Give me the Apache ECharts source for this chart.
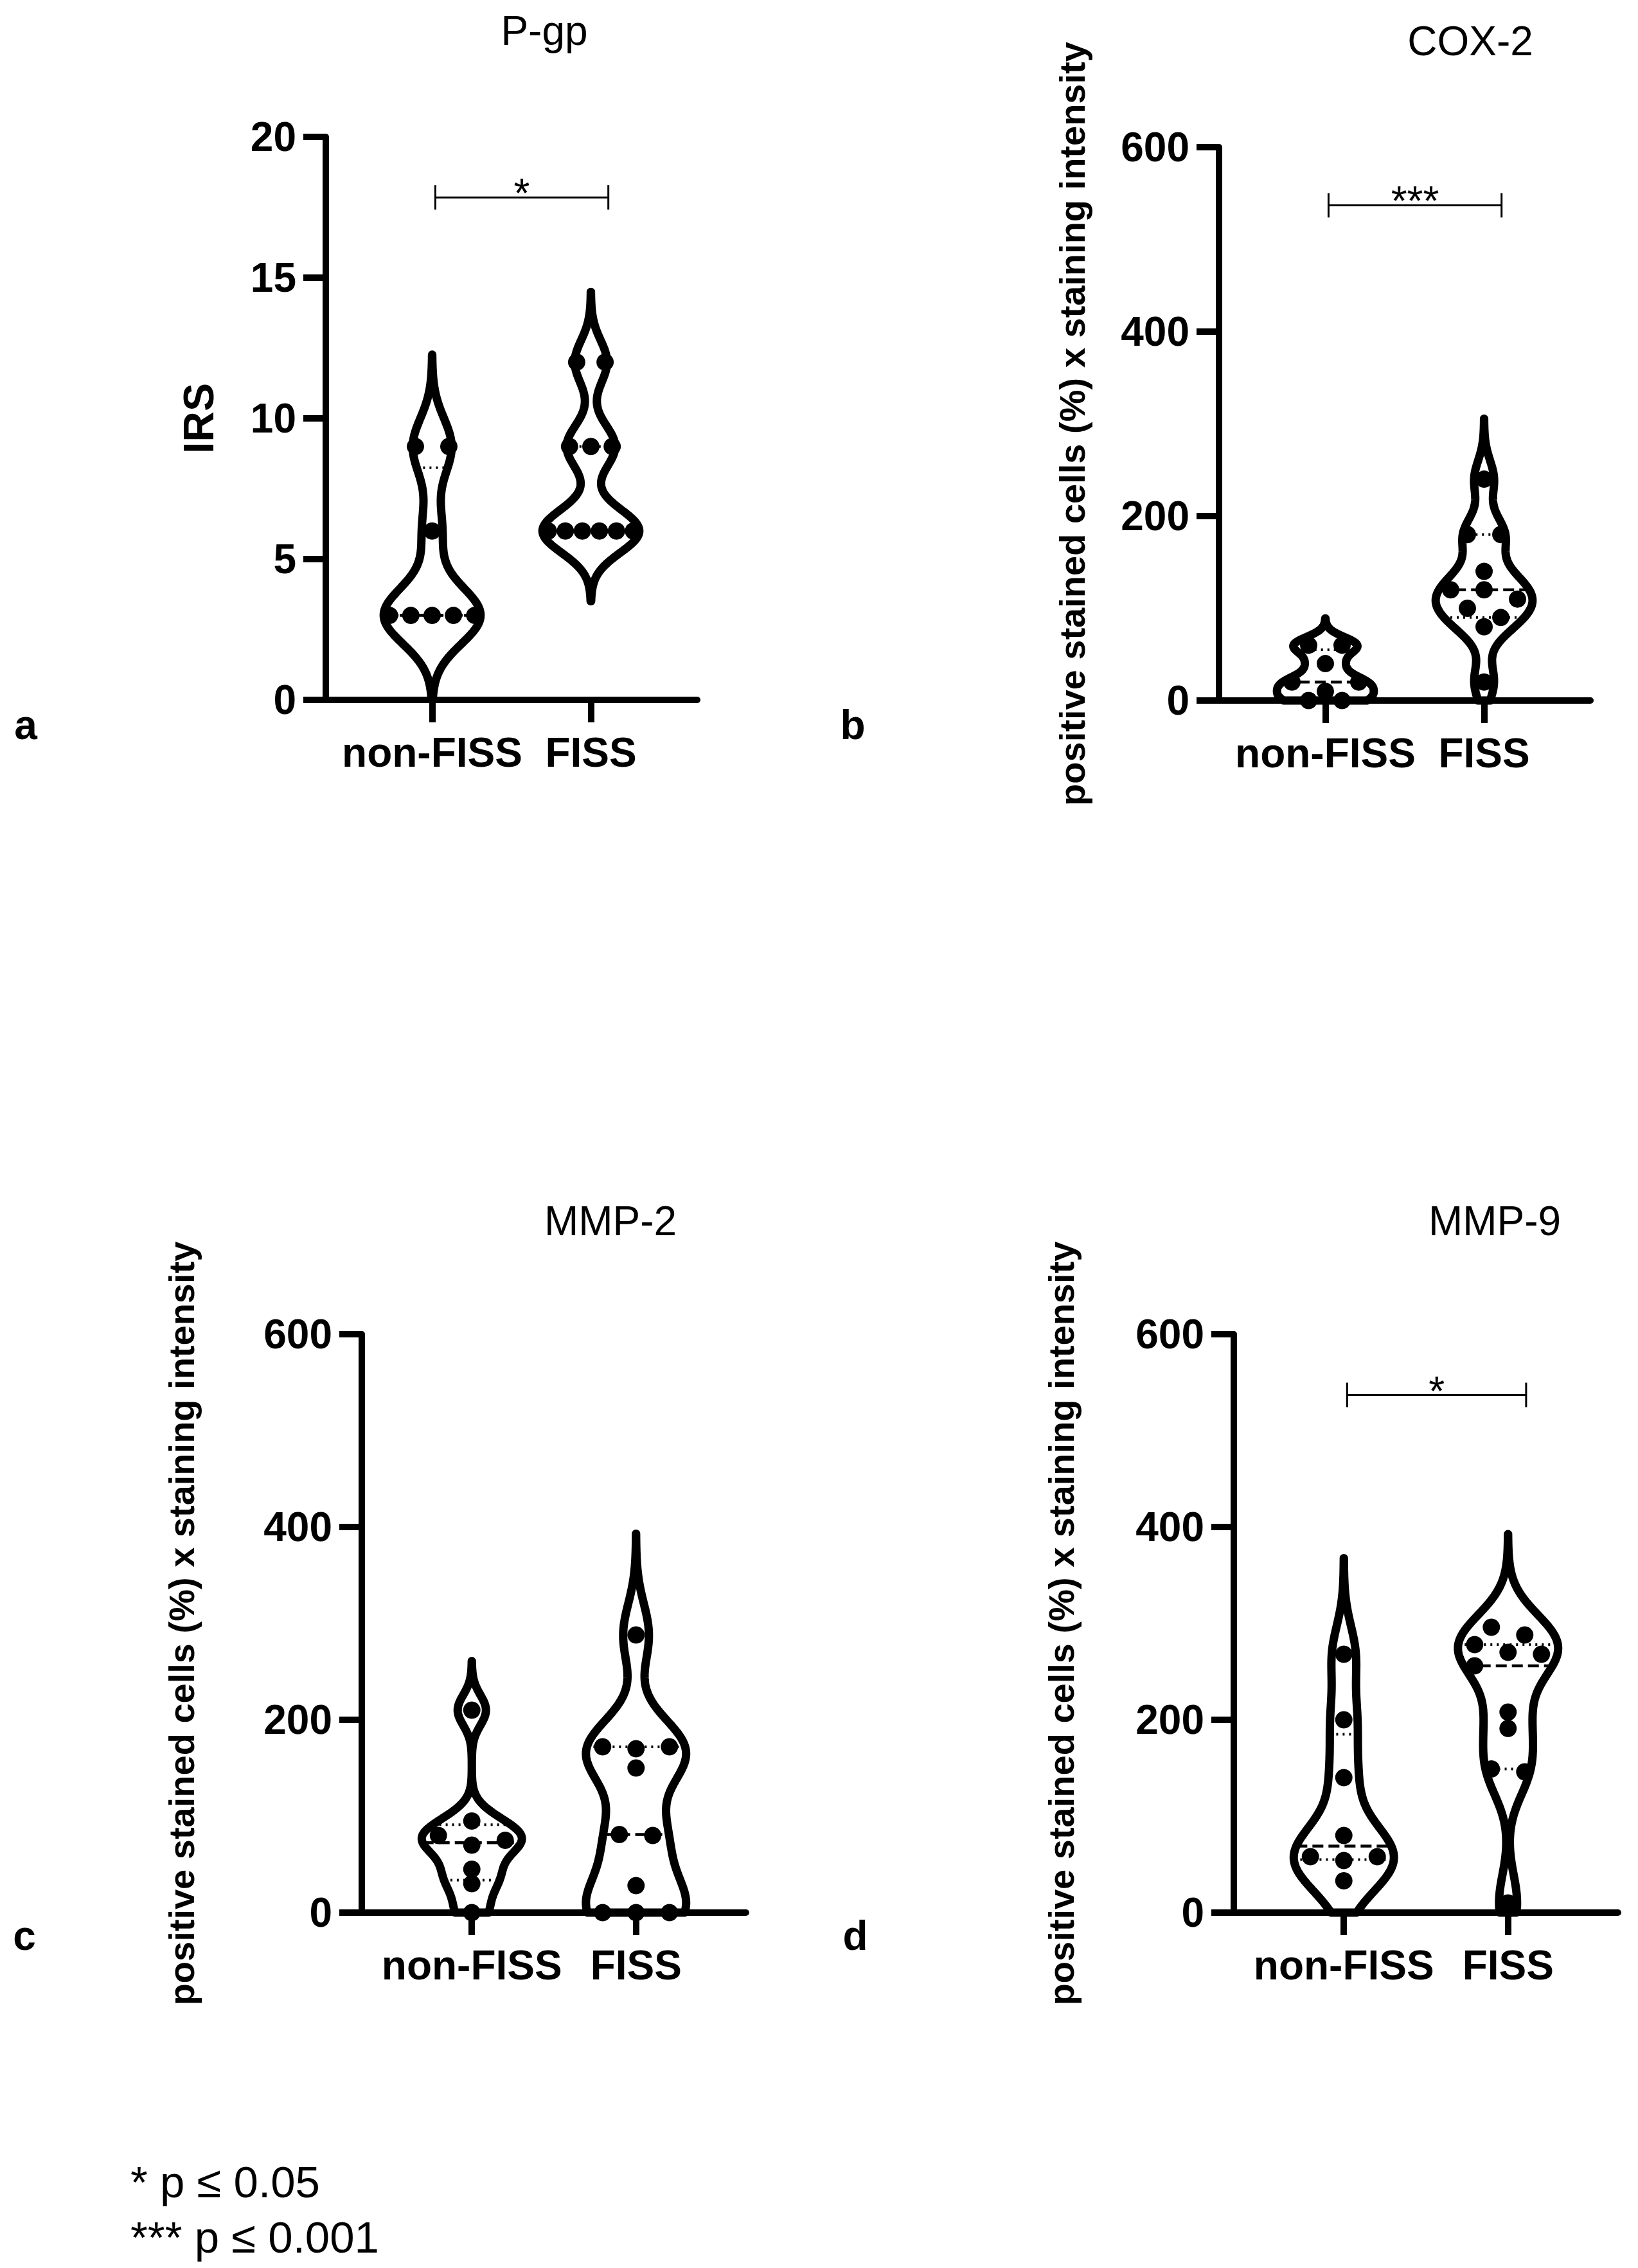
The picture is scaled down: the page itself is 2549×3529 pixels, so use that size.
<!DOCTYPE html>
<html>
<head>
<meta charset="utf-8">
<script src="https://cdn.jsdelivr.net/npm/echarts@6/dist/echarts.min.js"></script>
<style>
html,body{margin:0;padding:0;background:#ffffff;}
#chart{width:2549px;height:3529px;}
</style>
</head>
<body>
<div id="chart"></div>
<script>
// ---------------- data ----------------
const categories = ['non-FISS', 'FISS'];
const pgpNonFISS = [9, 9, 6, 3, 3, 3, 3, 3];
const pgpFISS = [12, 12, 9, 9, 9, 6, 6, 6, 6, 6, 6];
const cox2NonFISS = [60, 60, 40, 20, 10, 20, 0, 0];
const cox2FISS = [240, 180, 180, 140, 120, 120, 110, 100, 90, 80, 20];
const mmp2NonFISS = [210, 95, 80, 70, 75, 45, 30, 0];
const mmp2FISS = [288, 172, 170, 172, 150, 81, 80, 28, 0, 0, 0];
const mmp9NonFISS = [268, 200, 140, 80, 58, 54, 58, 33];
const mmp9FISS = [296, 288, 278, 270, 268, 256, 208, 191, 149, 146, 10];
const irsTicks = [0, 5, 10, 15, 20];
const scoreTicks = [0, 200, 400, 600];
const titles = ['P-gp', 'COX-2', 'MMP-2', 'MMP-9'];
const panelLetters = ['a', 'b', 'c', 'd'];
const yNames = ['IRS', 'positive stained cells (%) x staining intensity',
  'positive stained cells (%) x staining intensity', 'positive stained cells (%) x staining intensity'];
const sigLabels = ['*', '***', null, '*'];
const sigLevels = [17.85, 537, null, 537];
const footnotes = ['* p \u2264 0.05', '*** p \u2264 0.001'];

// ---------------- layout / style ----------------
const FONT = '"Liberation Sans", Arial, Helvetica, sans-serif';
const XMIN = -0.67, XMAX = 1.67;
const W = 0.305;       // max violin half width in category units
const BW_K = 0.62;     // kernel bandwidth as fraction of Silverman's rule
const EXT_K = 2.0;     // violin extends this many Silverman bandwidths beyond the data
const layout = [
  { grid: { left: 507, top: 213, width: 578, height: 876 }, ticks: irsTicks, nameGap: 165, nameSize: 66,
    title: [847, 48], letter: [40, 1128] },
  { grid: { left: 1897, top: 229, width: 578, height: 861 }, ticks: scoreTicks, nameGap: 201, nameSize: 56,
    title: [2288, 64], letter: [1327, 1128] },
  { grid: { left: 563, top: 2076, width: 598, height: 900 }, ticks: scoreTicks, nameGap: 253, nameSize: 56,
    title: [950, 1900], letter: [38, 3012] },
  { grid: { left: 1920, top: 2076, width: 598, height: 900 }, ticks: scoreTicks, nameGap: 241, nameSize: 56,
    title: [2326, 1900], letter: [1331, 3012] }
];
const panelData = [
  [pgpNonFISS, pgpFISS],
  [cox2NonFISS, cox2FISS],
  [mmp2NonFISS, mmp2FISS],
  [mmp9NonFISS, mmp9FISS]
];

// ---------------- statistics ----------------
function quantile(sorted, p) {
  const n = sorted.length;
  const pos = p * (n + 1);
  if (pos <= 1) return sorted[0];
  if (pos >= n) return sorted[n - 1];
  const lo = Math.floor(pos), fr = pos - lo;
  return sorted[lo - 1] + fr * (sorted[lo] - sorted[lo - 1]);
}
function violinStats(values, yMin) {
  const n = values.length;
  const s = values.slice().sort((a, b) => a - b);
  const mean = s.reduce((a, b) => a + b, 0) / n;
  const sd = Math.sqrt(s.reduce((a, b) => a + (b - mean) * (b - mean), 0) / (n - 1));
  const q1 = quantile(s, 0.25), med = quantile(s, 0.5), q3 = quantile(s, 0.75);
  const iqr = q3 - q1;
  const spread = iqr > 0 ? Math.min(sd, iqr / 1.34) : sd;
  const silver = 0.9 * spread * Math.pow(n, -0.2);
  const bw = BW_K * silver;
  const lo = Math.max(yMin, s[0] - EXT_K * silver), hi = s[n - 1] + EXT_K * silver;
  const raw = y => values.reduce((a, x) => a + Math.exp(-0.5 * Math.pow((y - x) / bw, 2)), 0);
  const ys = [], d = [];
  const N = 300;
  let mx = 0;
  for (let i = 0; i <= N; i++) {
    const y = lo + (hi - lo) * i / N;
    const v = raw(y);
    ys.push(y); d.push(v); if (v > mx) mx = v;
  }
  return { ys, d: d.map(v => v / mx), q1, med, q3, densAt: y => raw(y) / mx };
}

function dotPositions(values, st, catIdx, pxX, pxY) {
  const idx = values.map((v, i) => i).sort((a, b) => (values[b] - values[a]) || (a - b));
  const rows = [];
  idx.forEach(i => {
    const last = rows[rows.length - 1];
    if (last && (values[last[0]] - values[i]) * pxY < 16) last.push(i); else rows.push([i]);
  });
  const S = 52, D = 26;
  const placed = [];
  const off = new Array(values.length).fill(0);
  rows.forEach(row => {
    row.sort((a, b) => a - b);
    const k = row.length;
    if (k === 1) {
      const i = row[0], y = values[i] * pxY;
      const hw = W * st.densAt(values[i]) * pxX * 0.88;
      const cands = [0, -S, S].filter(c => Math.abs(c) <= hw || c === 0);
      let chosen = 0;
      for (const c of cands) {
        if (!placed.some(p => Math.hypot(p.x - c, p.y - y) < D)) { chosen = c; break; }
      }
      off[i] = chosen; placed.push({ x: chosen, y });
    } else {
      const ym = row.reduce((a, i) => a + values[i], 0) / k;
      const hw = W * st.densAt(ym) * pxX;
      const sp = Math.min(S, 2 * 0.88 * hw / (k - 1));
      row.forEach((i, j) => {
        const x = (j - (k - 1) / 2) * sp;
        off[i] = x; placed.push({ x, y: values[i] * pxY });
      });
    }
  });
  return values.map((v, i) => [catIdx + off[i] / pxX, v]);
}

// ---------------- build option ----------------
const grids = [], xAxes = [], yAxes = [], series = [], graphics = [];
layout.forEach((L, p) => {
  const ticks = L.ticks;
  const yMax = ticks[ticks.length - 1];
  const yInt = ticks[1] - ticks[0];
  grids.push(Object.assign({ containLabel: false }, L.grid));
  xAxes.push({
    gridIndex: p, type: 'value', min: XMIN, max: XMAX,
    splitLine: { show: false },
    axisLine: { show: true, onZero: false, lineStyle: { color: '#000', width: 10 } },
    axisTick: { show: true, customValues: [0, 1], length: 35, lineStyle: { color: '#000', width: 10 } },
    axisLabel: { show: true, customValues: [0, 1], margin: 50, color: '#000', fontSize: 64, fontWeight: 'bold',
      fontFamily: FONT, formatter: v => categories[Math.round(v)] }
  });
  yAxes.push({
    gridIndex: p, type: 'value', min: 0, max: yMax, interval: yInt,
    name: yNames[p], nameLocation: 'middle', nameGap: L.nameGap,
    nameTextStyle: { color: '#000', fontSize: L.nameSize, fontWeight: 'bold', fontFamily: FONT },
    splitLine: { show: false },
    axisLine: { show: true, onZero: false, lineStyle: { color: '#000', width: 10 } },
    axisTick: { show: true, length: 35, lineStyle: { color: '#000', width: 10 } },
    axisLabel: { margin: 46, color: '#000', fontSize: 64, fontWeight: 'bold', fontFamily: FONT }
  });
  const pxX = L.grid.width / (XMAX - XMIN);
  const pxY = L.grid.height / yMax;
  panelData[p].forEach((vals, c) => {
    const st = violinStats(vals, 0);
    series.push({
      type: 'custom', xAxisIndex: p, yAxisIndex: p, z: 2, silent: true,
      data: [[c, st.med]], encode: { x: 0, y: 1 },
      renderItem: (params, api) => {
        const right = [], left = [];
        for (let i = 0; i < st.ys.length; i++) right.push(api.coord([c + W * st.d[i], st.ys[i]]));
        for (let i = st.ys.length - 1; i >= 0; i--) left.push(api.coord([c - W * st.d[i], st.ys[i]]));
        const children = [{
          type: 'polygon', shape: { points: right.concat(left) },
          style: { fill: 'none', stroke: '#000', lineWidth: 13, lineJoin: 'round' }
        }];
        const addLine = (y, dash, lw) => {
          const h = W * st.densAt(y);
          const a = api.coord([c - h, y]), b = api.coord([c + h, y]);
          children.push({ type: 'line', shape: { x1: a[0], y1: a[1], x2: b[0], y2: b[1] },
            style: { stroke: '#000', lineWidth: lw, lineDash: dash, fill: 'none' } });
        };
        addLine(st.q1, [3, 7], 4);
        addLine(st.q3, [3, 7], 4);
        addLine(st.med, [17, 8], 4.5);
        return { type: 'group', children };
      }
    });
    series.push({
      type: 'scatter', xAxisIndex: p, yAxisIndex: p, z: 3, silent: true,
      symbol: 'circle', symbolSize: 27, itemStyle: { color: '#000', opacity: 1 },
      data: dotPositions(vals, st, c, pxX, pxY)
    });
  });
  if (sigLabels[p]) {
    series.push({
      type: 'custom', xAxisIndex: p, yAxisIndex: p, z: 4, silent: true,
      data: [[0.02, 1.11, sigLevels[p]]], encode: { x: [0, 1], y: 2 },
      renderItem: (params, api) => {
        const a = api.coord([api.value(0), api.value(2)]);
        const b = api.coord([api.value(1), api.value(2)]);
        const ls = { stroke: '#000', lineWidth: 3 };
        return { type: 'group', children: [
          { type: 'line', shape: { x1: a[0], y1: a[1], x2: b[0], y2: b[1] }, style: ls },
          { type: 'line', shape: { x1: a[0], y1: a[1] - 19, x2: a[0], y2: a[1] + 19 }, style: ls },
          { type: 'line', shape: { x1: b[0], y1: b[1] - 19, x2: b[0], y2: b[1] + 19 }, style: ls },
          { type: 'text', x: (a[0] + b[0]) / 2, y: a[1] - 6,
            style: { text: sigLabels[p], fill: '#000', fontSize: 64, fontFamily: FONT,
              align: 'center', verticalAlign: 'middle', textAlign: 'center', textVerticalAlign: 'middle' } }
        ]};
      }
    });
  }
  graphics.push({ type: 'text', x: L.title[0], y: L.title[1],
    style: { text: titles[p], fill: '#000', fontSize: 64, fontFamily: FONT,
      align: 'center', verticalAlign: 'middle', textAlign: 'center', textVerticalAlign: 'middle' } });
  graphics.push({ type: 'text', x: L.letter[0], y: L.letter[1],
    style: { text: panelLetters[p], fill: '#000', fontSize: 64, fontWeight: 'bold', fontFamily: FONT,
      align: 'center', verticalAlign: 'middle', textAlign: 'center', textVerticalAlign: 'middle' } });
});
footnotes.forEach((t, i) => {
  graphics.push({ type: 'text', x: 203, y: 3395 + i * 86,
    style: { text: t, fill: '#000', fontSize: 69, fontFamily: FONT,
      align: 'left', verticalAlign: 'middle', textAlign: 'left', textVerticalAlign: 'middle' } });
});

const chart = echarts.init(document.getElementById('chart'), null, { renderer: 'svg', width: 2549, height: 3529 });
chart.setOption({
  backgroundColor: '#ffffff',
  animation: false,
  grid: grids, xAxis: xAxes, yAxis: yAxes, series: series, graphic: graphics
});
</script>
</body>
</html>
